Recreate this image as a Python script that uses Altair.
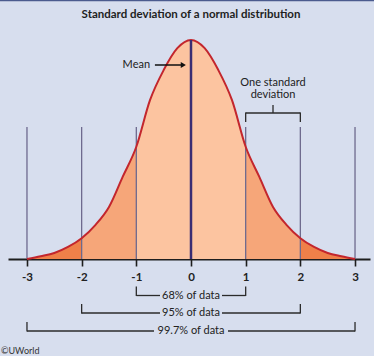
import altair as alt
import pandas as pd

# ---------------- data ----------------
TITLE = "Standard deviation of a normal distribution"
curve_x = [-3.0, -2.75, -2.5, -2.25, -2.0, -1.75, -1.5, -1.25, -1.0, -0.75, -0.5, -0.25,
           0.0, 0.25, 0.5, 0.75, 1.0, 1.25, 1.5, 1.75, 2.0, 2.25, 2.5, 2.75, 3.0]
curve_y = [0.0, 0.005, 0.011, 0.022, 0.038, 0.062, 0.095, 0.150, 0.205, 0.290, 0.345, 0.385,
           0.400, 0.385, 0.345, 0.290, 0.205, 0.150, 0.095, 0.062, 0.038, 0.022, 0.011, 0.005, 0.0]
tick_values = [-3, -2, -1, 0, 1, 2, 3]
grid_x = [-3, -2, -1, 1, 2, 3]
band_lo = [-3, -2, -1, 1, 2]
band_hi = [-2, -1, 1, 2, 3]
band_kind = ["outer", "mid", "center", "mid", "outer"]
bracket_lo = [-1, -2, -3]
bracket_hi = [1, 2, 3]
bracket_label = ["68% of data", "95% of data", "99.7% of data"]
MEAN_X = 0
SD_LO, SD_HI = 1, 2
SD_TEXT = ["One standard", "deviation"]
MEAN_TEXT = "Mean"
CREDIT = "\u00a9UWorld"

# ---------------- layout / style ----------------
FONT = "Lato"
BG = "#d7deee"
PX_PER_UNIT = 54.67
bracket_y_px = [295.5, 313, 331]
bracket_gap_px = [31, 31, 37]

curve = pd.DataFrame({"x": curve_x, "y": curve_y})
band_rows = []
for i, (lo, hi, kind) in enumerate(zip(band_lo, band_hi, band_kind)):
    for x, y in zip(curve_x, curve_y):
        if lo <= x <= hi:
            band_rows.append({"x": x, "y": y, "band": i, "kind": kind})
bands = pd.DataFrame(band_rows)

xscale = alt.Scale(domain=[-3.347, 3.274], nice=False, zero=False)
yscale = alt.Scale(domain=[0, 0.473], nice=False, zero=False)

X = alt.X("x:Q", scale=xscale,
          axis=alt.Axis(values=tick_values, labelExpr="'' + datum.value", title=None, grid=False,
                        tickSize=7, tickWidth=1.6, tickColor="#1e1e1e",
                        domainColor="#1e1e1e", domainWidth=2,
                        labelFont=FONT, labelFontSize=11.5, labelFontWeight="bold",
                        labelColor="#222222", labelPadding=5))
Y = alt.Y("y:Q", scale=yscale, axis=None, stack=None)

area = alt.Chart(bands).mark_area(interpolate="monotone").encode(
    x=X, y=Y, detail="band:N",
    color=alt.Color("kind:N", legend=None,
                    scale=alt.Scale(domain=["outer", "mid", "center"],
                                    range=["#ef8049", "#f6a679", "#fcc4a0"])),
)

grid = alt.Chart(pd.DataFrame({"x": grid_x})).mark_rule(color="#6e6a8e", strokeWidth=1.3).encode(
    x=alt.X("x:Q", scale=xscale), y=alt.value(127), y2=alt.value(259))

line = alt.Chart(curve).mark_line(interpolate="monotone", color="#c3262d", strokeWidth=2).encode(
    x=alt.X("x:Q", scale=xscale), y=alt.Y("y:Q", scale=yscale))

peak = max(curve_y)
mean_rule = alt.Chart(pd.DataFrame({"x": [MEAN_X], "y": [peak], "y0": [0.0]})).mark_rule(
    color="#3a2d73", strokeWidth=2.5).encode(
    x=alt.X("x:Q", scale=xscale), y=alt.Y("y:Q", scale=yscale), y2="y0:Q")

# brackets
brk = pd.DataFrame({"lo": bracket_lo, "hi": bracket_hi, "label": bracket_label,
                    "ypx": bracket_y_px, "gap": bracket_gap_px})
brk["mid"] = (brk["lo"] + brk["hi"]) / 2
brk["gl"] = brk["mid"] - brk["gap"] / PX_PER_UNIT
brk["gr"] = brk["mid"] + brk["gap"] / PX_PER_UNIT

bracket_layers = []
for _, r in brk.iterrows():
    one = pd.DataFrame([r])
    base = alt.Chart(one)
    bracket_layers += [
        base.mark_rule(color="#2b2b2b", strokeWidth=1.3).encode(
            x=alt.X("lo:Q", scale=xscale), x2="gl:Q", y=alt.value(r["ypx"])),
        base.mark_rule(color="#2b2b2b", strokeWidth=1.3).encode(
            x=alt.X("gr:Q", scale=xscale), x2="hi:Q", y=alt.value(r["ypx"])),
        base.mark_rule(color="#2b2b2b", strokeWidth=1.3).encode(
            x=alt.X("lo:Q", scale=xscale), y=alt.value(r["ypx"] - 9), y2=alt.value(r["ypx"] + 0.6)),
        base.mark_rule(color="#2b2b2b", strokeWidth=1.3).encode(
            x=alt.X("hi:Q", scale=xscale), y=alt.value(r["ypx"] - 9), y2=alt.value(r["ypx"] + 0.6)),
        base.mark_text(font=FONT, fontSize=11, color="#222222", baseline="middle").encode(
            x=alt.X("mid:Q", scale=xscale), y=alt.value(r["ypx"]), text="label:N"),
    ]

# one standard deviation bracket
sd = pd.DataFrame({"lo": [SD_LO], "hi": [SD_HI], "mid": [(SD_LO + SD_HI) / 2]})
sd_base = alt.Chart(sd)
sd_layers = [
    sd_base.mark_rule(color="#2b2b2b", strokeWidth=1.3).encode(
        x=alt.X("lo:Q", scale=xscale), x2="hi:Q", y=alt.value(113)),
    sd_base.mark_rule(color="#2b2b2b", strokeWidth=1.3).encode(
        x=alt.X("lo:Q", scale=xscale), y=alt.value(112.4), y2=alt.value(122)),
    sd_base.mark_rule(color="#2b2b2b", strokeWidth=1.3).encode(
        x=alt.X("hi:Q", scale=xscale), y=alt.value(112.4), y2=alt.value(122)),
    sd_base.mark_rule(color="#2b2b2b", strokeWidth=1.3).encode(
        x=alt.X("mid:Q", scale=xscale), y=alt.value(105), y2=alt.value(113)),
    alt.Chart(pd.DataFrame({"mid": [(SD_LO + SD_HI) / 2] * 2, "t": SD_TEXT, "ypx": [83, 95]}))
    .mark_text(font=FONT, fontSize=11, color="#222222", baseline="middle").encode(
        x=alt.X("mid:Q", scale=xscale), y=alt.Y("ypx:Q", scale=None), text="t:N"),
]

# mean label + arrow
mean_df = pd.DataFrame({"tx": [MEAN_X - 1.0], "a0": [MEAN_X - 0.66], "a1": [MEAN_X - 0.16],
                        "ah": [MEAN_X - 0.14], "t": [MEAN_TEXT]})
mb = alt.Chart(mean_df)
mean_layers = [
    mb.mark_text(font=FONT, fontSize=11, color="#222222", baseline="middle").encode(
        x=alt.X("tx:Q", scale=xscale), y=alt.value(65), text="t:N"),
    mb.mark_rule(color="#111111", strokeWidth=1.5).encode(
        x=alt.X("a0:Q", scale=xscale), x2="a1:Q", y=alt.value(65)),
    mb.mark_point(shape="triangle-right", filled=True, size=35, color="#111111", opacity=1).encode(
        x=alt.X("ah:Q", scale=xscale), y=alt.value(65)),
]

title = alt.Chart(pd.DataFrame({"x": [MEAN_X], "t": [TITLE]})).mark_text(
    font=FONT, fontSize=11.5, fontWeight="bold", color="#1e1e1e", baseline="middle").encode(
    x=alt.X("x:Q", scale=xscale), y=alt.value(15), text="t:N")

credit = alt.Chart(pd.DataFrame({"t": [CREDIT]})).mark_text(
    font=FONT, fontSize=9, color="#333333", align="left", baseline="middle").encode(
    x=alt.value(-7), y=alt.value(351), text="t:N")

border = alt.Chart(pd.DataFrame({"t": [0]})).mark_rule(color="#4b5b8e", strokeWidth=1.5).encode(
    x=alt.value(-8), x2=alt.value(366), y=alt.value(0.5))

chart = alt.layer(
    area, grid, line, mean_rule, *bracket_layers, *sd_layers, *mean_layers, title, credit, border
).properties(
    width=362, height=259,
    padding={"left": 8, "top": 0, "right": 4, "bottom": 97},
    autosize=alt.AutoSizeParams(type="none"),
    background=BG,
).configure_view(stroke=None)

chart.save("out.html", embed_options={"renderer": "svg", "actions": False})
